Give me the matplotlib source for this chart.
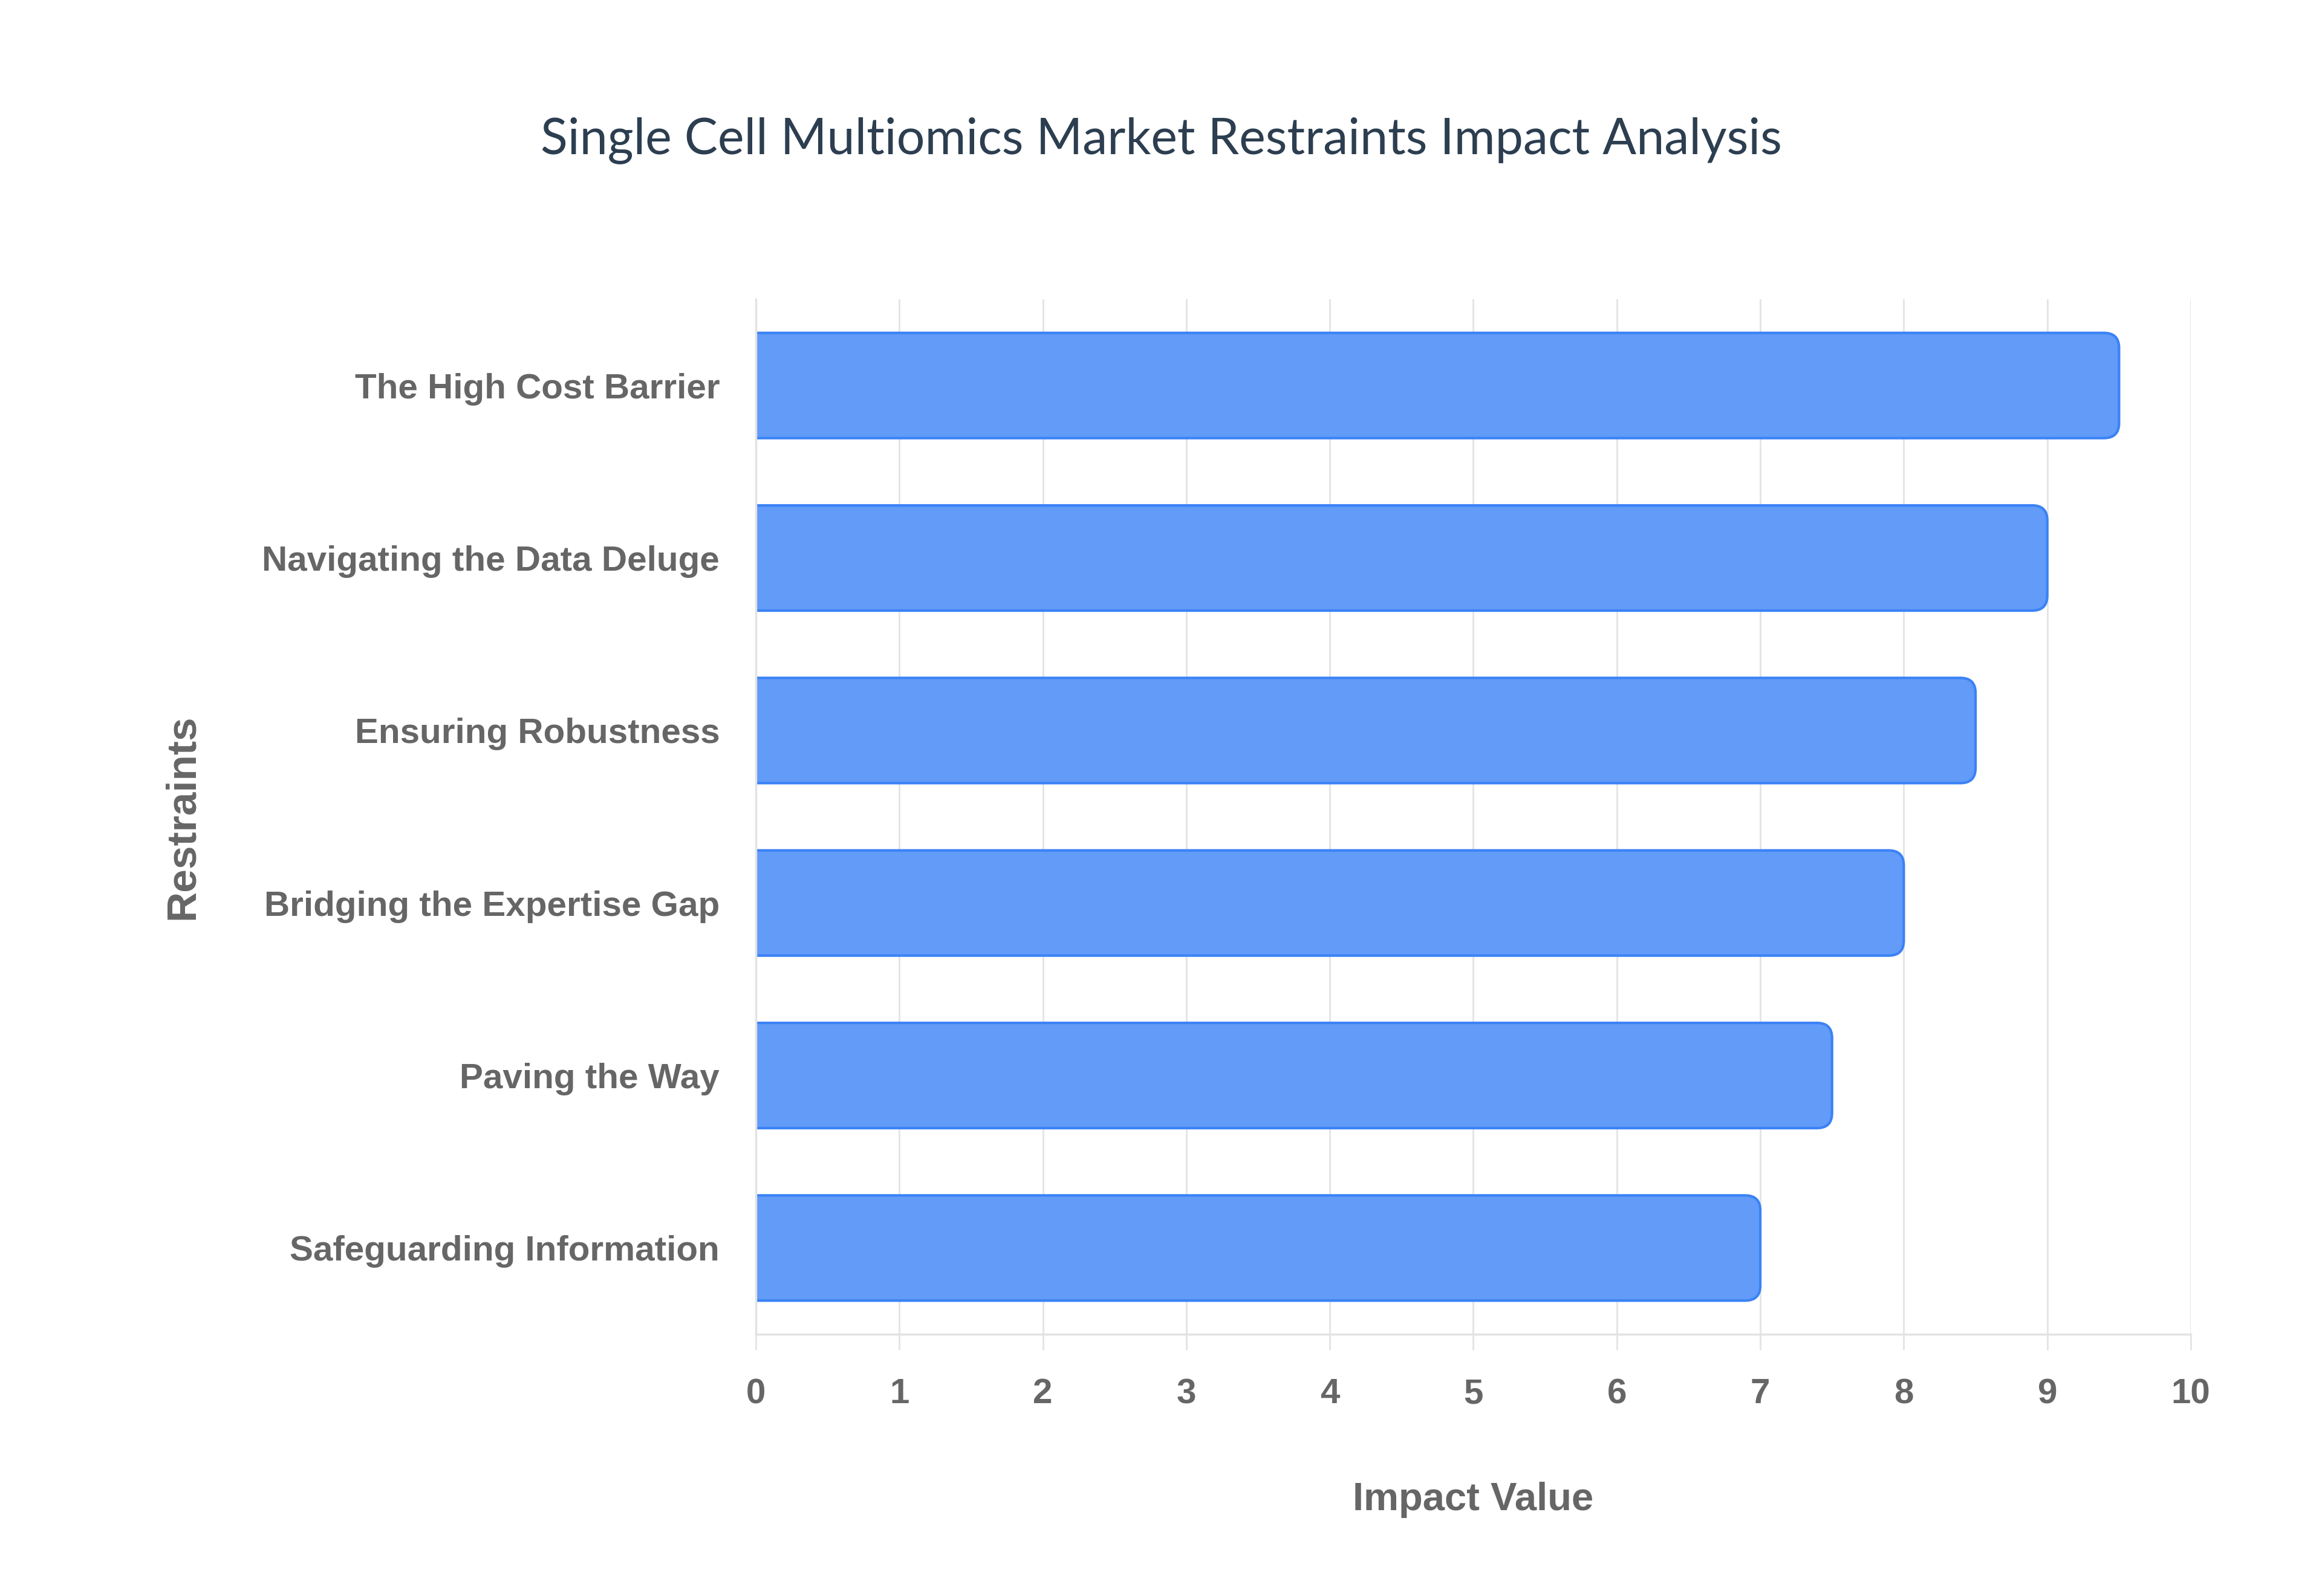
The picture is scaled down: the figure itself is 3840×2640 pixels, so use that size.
import matplotlib
matplotlib.use("Agg")
import matplotlib.pyplot as plt
from matplotlib.patches import FancyBboxPatch

# data
restraints = [
    "The High Cost Barrier",
    "Navigating the Data Deluge",
    "Ensuring Robustness",
    "Bridging the Expertise Gap",
    "Paving the Way",
    "Safeguarding Information",
]
impact = [9.5, 9.0, 8.5, 8.0, 7.5, 7.0]
xticks = [0, 1, 2, 3, 4, 5, 6, 7, 8, 9, 10]

title_color = "#2c3e50"
label_gray = "#666666"
grid_gray = "#e3e3e3"
bar_fill = "#629bf8"
bar_edge = "#3b82f6"

fig = plt.figure(figsize=(38.4, 26.4), dpi=100)
ax = fig.add_axes([0.3255, 0.164, 0.618, 0.6485])

ypos = list(range(len(restraints)))
bars = ax.barh(ypos, impact, height=0.61, color=bar_fill, edgecolor=bar_edge, linewidth=3)

ax.set_xlim(0, 10)
ax.set_ylim(len(restraints) - 0.5, -0.5)

# swap the plain rectangles for ones with rounded right corners
# (left corners start left of x=0 and get clipped by the axes)
rx = 0.105
ry = 0.0875
for b in bars.patches:
    x0, y0 = b.get_x(), b.get_y()
    w, h = b.get_width(), b.get_height()
    rounded = FancyBboxPatch((x0 - 0.3, y0), w + 0.3, h,
                             boxstyle=f"round,pad=0,rounding_size={rx}",
                             mutation_aspect=ry / rx,
                             facecolor=bar_fill, edgecolor=bar_edge,
                             linewidth=3, zorder=2)
    ax.add_patch(rounded)
    b.set_visible(False)

ax.set_xticks(xticks)
ax.set_xticklabels([str(t) for t in xticks])
ax.set_yticks(ypos)
ax.set_yticklabels(restraints)

tick_font = dict(family="Liberation Sans", weight="bold", size=42)
for lab in ax.get_xticklabels() + ax.get_yticklabels():
    lab.set_fontproperties(matplotlib.font_manager.FontProperties(**tick_font))
    lab.set_color(label_gray)

ax.tick_params(axis="x", length=19, width=2, color=grid_gray, pad=33)
ax.tick_params(axis="y", length=0, pad=43)

ax.grid(axis="x", color=grid_gray, linewidth=2, zorder=0)
ax.set_axisbelow(True)
for s in ["top", "right"]:
    ax.spines[s].set_visible(False)
for s in ["left", "bottom"]:
    ax.spines[s].set_color(grid_gray)
    ax.spines[s].set_linewidth(2.5)

ax.set_xlabel("Impact Value", family="Liberation Sans", weight="bold",
              size=47, color=label_gray)
ax.xaxis.set_label_coords(0.5, -0.16)
ax.xaxis.label.set_va("center")

ax.set_ylabel("Restraints", family="Liberation Sans", weight="bold",
              size=50, color=label_gray)
ax.yaxis.set_label_coords(-0.3995, 0.5)
ax.yaxis.label.set_va("center")

fig.text(0.5, 0.912, "Single Cell Multiomics Market Restraints Impact Analysis",
         ha="center", va="center", family="Lato", size=59.5, color=title_color)

fig.savefig("out.png", dpi=100, facecolor="white")
